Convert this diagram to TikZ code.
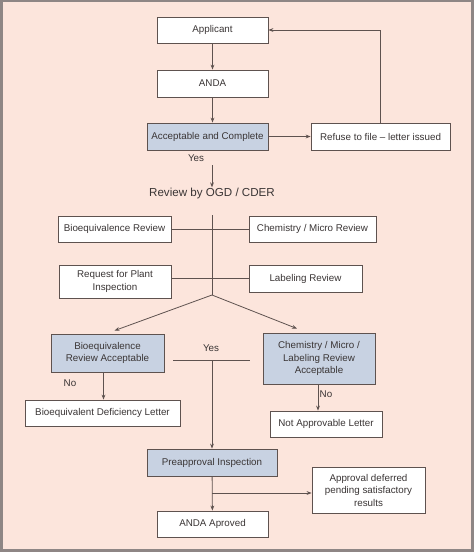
\documentclass[tikz,border=0pt]{standalone}
\usepackage{fontspec}
\setmainfont{Liberation Sans}
\usetikzlibrary{arrows.meta, shadows}
\definecolor{pagepink}{HTML}{FCE5DC}
\definecolor{framegray}{HTML}{8E8685}
\definecolor{boxblue}{HTML}{C8D2E2}
\definecolor{inkline}{HTML}{5E524F}
\definecolor{inktext}{HTML}{3A3535}
\tikzset{
  flowbox/.style={draw=inkline, line width=0.8pt, fill=white, text=inktext,
        align=center, inner sep=1pt,
        drop shadow={shadow xshift=1.4pt, shadow yshift=-1.4pt, fill=black!80, opacity=1}},
  okbox/.style={flowbox, fill=boxblue},
  flow/.style={-{Stealth[length=5pt,width=3.8pt]}, inkline, line width=0.8pt},
  link/.style={inkline, line width=0.8pt},
  tag/.style={text=inktext, inner sep=0pt},
}

\begin{document}
\begin{tikzpicture}[x=1pt, y=-1pt, font=\fontsize{9.8}{12.5}\selectfont]
      % page and frame
      \fill[framegray] (0,0) rectangle (474,552);
      \fill[pagepink] (3,2) rectangle (471,549);

      \node[flowbox, minimum width=111pt, minimum height=26pt] (app) at (212.5,30) {Applicant};
      \node[flowbox, minimum width=111pt, minimum height=27pt] (anda) at (212.5,83.5) {ANDA};
      \node[okbox, minimum width=121pt, minimum height=27pt] (accept) at (207.5,136.5) {Acceptable and Complete};
      \node[flowbox, minimum width=139pt, minimum height=27pt] (refuse) at (380.5,136.5) {Refuse to file -- letter issued};
      \node[tag] (yes1) at (196,158) {Yes};
      \coordinate (yestop) at (212,165);
      \node[tag, font=\fontsize{11.6}{13}\selectfont] (review) at (212,193) {Review by OGD / CDER};

      \node[flowbox, minimum width=113pt, minimum height=26pt] (biorev) at (114.5,229) {Bioequivalence Review};
      \node[flowbox, minimum width=127pt, minimum height=26pt] (chemrev) at (312.5,229) {Chemistry / Micro Review};
      \node[flowbox, minimum width=112pt, minimum height=33pt] (plant) at (115,281.5) {Request for Plant\\Inspection};
      \node[flowbox, minimum width=113pt, minimum height=27pt] (label) at (305.5,278.5) {Labeling Review};
      \coordinate (trunk) at (212,215);
      \coordinate (split) at (212,295);

      \node[okbox, minimum width=113pt, minimum height=38pt] (bioacc) at (107.5,353) {Bioequivalence\\Review Acceptable};
      \node[okbox, minimum width=112pt, minimum height=51pt] (chemacc) at (319,358.5) {Chemistry / Micro /\\Labeling Review\\Acceptable};
      \node[tag] (yes2) at (211,348) {Yes};
      \coordinate (yesleft) at (173,360);
      \coordinate (yesright) at (250,360);
      \coordinate (yesmid) at (212,360);

      \node[tag] (no1) at (70,383) {No};
      \node[flowbox, minimum width=155pt, minimum height=26pt] (biodef) at (102.5,413) {Bioequivalent Deficiency Letter};
      \node[tag] (no2) at (326,394) {No};
      \node[flowbox, minimum width=112pt, minimum height=26pt] (notapp) at (326,424) {Not Approvable Letter};

      \node[okbox, minimum width=130pt, minimum height=27pt] (pre) at (212,462.5) {Preapproval Inspection};
      \node[flowbox, minimum width=113pt, minimum height=46pt] (defer) at (368.5,490) {Approval deferred\\pending satisfactory\\results};
      \node[flowbox, minimum width=111pt, minimum height=26pt] (approved) at (212.5,524) {ANDA Aproved};
      \coordinate (fork) at (212,493);

      % connectors
      \draw[flow] (app) -- (anda);
      \draw[flow] (anda.south) -- (anda.south |- accept.north);
      \draw[flow] (accept) -- (refuse);
      \draw[flow] (refuse.north) |- (app.east);
      \draw[flow] (yestop) -- (review.north);
      \draw[link] (trunk) -- (split);
      \draw[link] (biorev) -- (chemrev);
      \draw[link] (label.west) -- (label.west -| plant.east);
      \draw[flow] (split) -- ([xshift=7pt, yshift=3pt]bioacc.north);
      \draw[flow] (split) -- ([xshift=-22pt, yshift=4pt]chemacc.north);
      \draw[link] (yesleft) -- (yesright);
      \draw[flow] (yesmid) -- (pre.north);
      \draw[flow] ([xshift=-4pt]bioacc.south) -- ([xshift=-4pt]bioacc.south |- biodef.north);
      \draw[flow] ([xshift=-1pt]chemacc.south) -- ([xshift=-1pt]chemacc.south |- notapp.north);
      \draw[flow] (pre) -- (approved);
      \draw[flow] (fork) -- (fork -| defer.west);
    \end{tikzpicture}
\end{document}
